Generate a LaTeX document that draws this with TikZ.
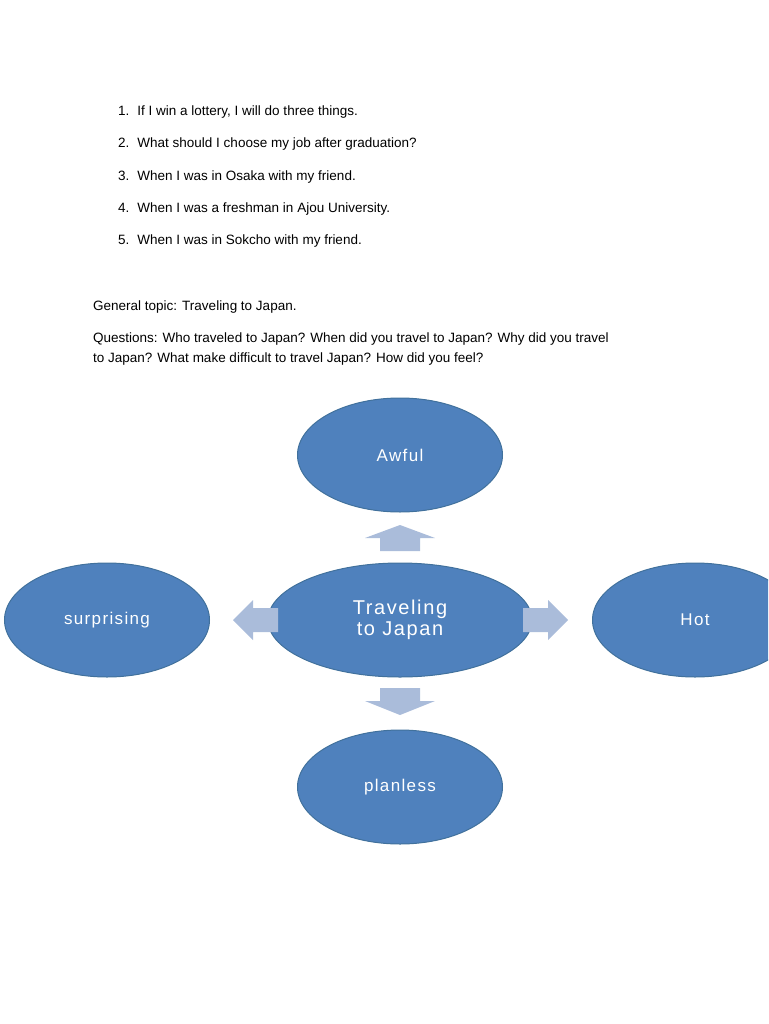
\documentclass[tikz,border=0pt]{standalone}
\usepackage{fontspec}
\setmainfont{Liberation Sans}
\usetikzlibrary{shapes.geometric}
\definecolor{ebl}{HTML}{4F81BD}
\definecolor{ebd}{HTML}{41719C}
\definecolor{arr}{HTML}{AABCDA}
\begin{document}
\begin{tikzpicture}[x=1pt,y=-1pt,
  txt/.style={anchor=west,inner sep=0pt,font=\fontsize{13.5}{16}\selectfont},
  ell/.style={ellipse,fill=ebl,draw=ebd,line width=1pt,minimum width=205pt,minimum height=114pt,text=white,font=\fontsize{17}{19}\selectfont\addfontfeature{LetterSpace=8}},
  blk/.style={fill=arr}]
\useasboundingbox (0,0) rectangle (768,1024);
\begin{scope}
\clip (0,0) rectangle (768,1024);
\node[txt] (l1) at (118,112) {1.\hspace{8pt}If I win a lottery, I will do three things.};
\node[txt] (l2) at (118,144) {2.\hspace{8pt}What should I choose my job after graduation?};
\node[txt] (l3) at (118,177) {3.\hspace{8pt}When I was in Osaka with my friend.};
\node[txt] (l4) at (118,209) {4.\hspace{8pt}When I was a freshman in Ajou University.};
\node[txt] (l5) at (118,241) {5.\hspace{8pt}When I was in Sokcho with my friend.};
\node[txt] (gt) at (93,307) {General topic: Traveling to Japan.};
\node[txt] (q1) at (93,339) {Questions: Who traveled to Japan? When did you travel to Japan? Why did you travel};
\node[txt] (q2) at (93,359) {to Japan? What make difficult to travel Japan? How did you feel?};
\node[ell] (c) at (400,620) {\parbox{180pt}{\centering\fontsize{20}{21}\selectfont Traveling\\to Japan}};
\node[ell] (a) at (400,455) {Awful};
\node[ell] (s) at (107,620) {surprising};
\node[ell] (h) at (695,620) {Hot};
\node[ell] (p) at (400,787) {planless};
% block arrows
\fill[blk] (380,551) -- (380,538) -- (365,538) -- (400,525) -- (435,538) -- (420,538) -- (420,551) -- cycle;
\fill[blk] (380,688) -- (380,701) -- (365,701) -- (400,715) -- (435,701) -- (420,701) -- (420,688) -- cycle;
\fill[blk] (278,608) -- (253,608) -- (253,600) -- (233,620) -- (253,640) -- (253,632) -- (278,632) -- cycle;
\fill[blk] (523,608) -- (548,608) -- (548,600) -- (568,620) -- (548,640) -- (548,632) -- (523,632) -- cycle;
\end{scope}
\end{tikzpicture}
\end{document}
